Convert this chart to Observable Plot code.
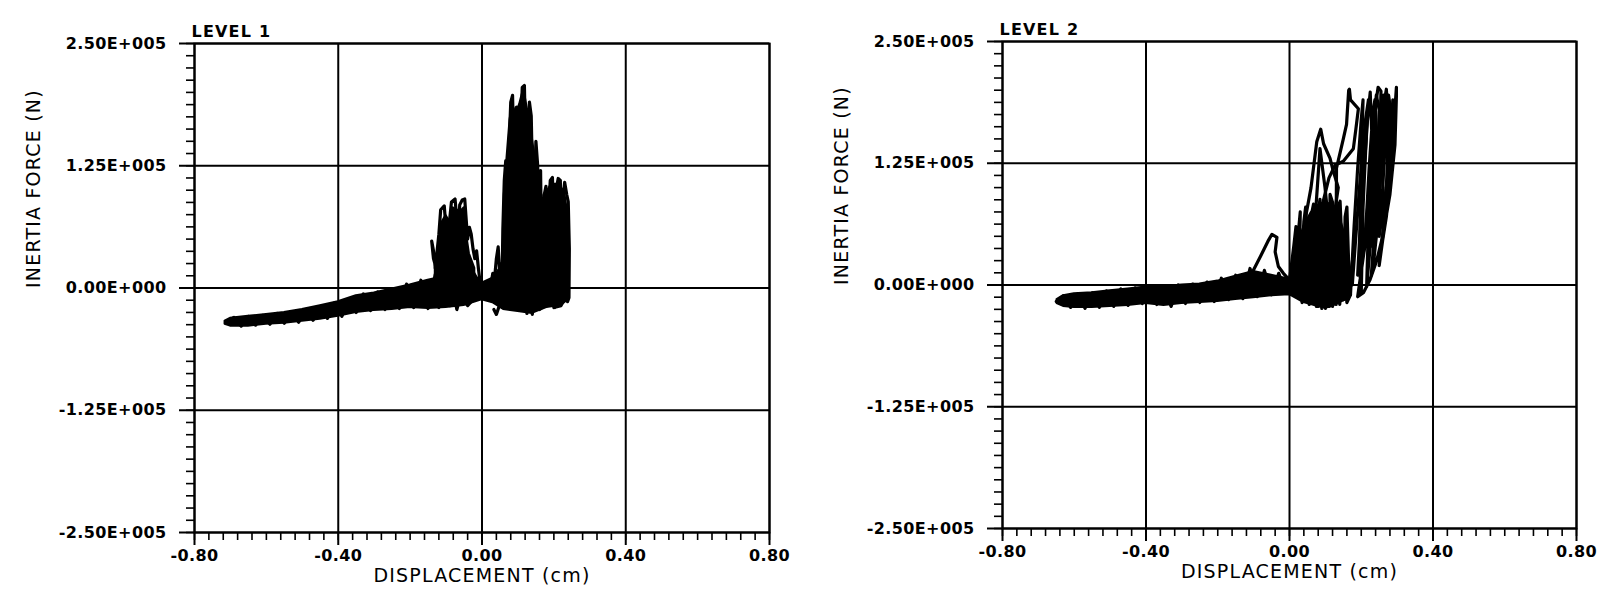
<!DOCTYPE html>
<html>
<head>
<meta charset="utf-8">
<script src="https://cdn.jsdelivr.net/npm/d3@7"></script>
<script src="https://cdn.jsdelivr.net/npm/@observablehq/plot@0.6"></script>
<style>
  html, body { margin: 0; padding: 0; background: #fff; }
  #wrap { display: flex; width: 1603px; height: 599px; overflow: hidden; }
  #wrap svg text { letter-spacing: 1.2px; }
  #wrap svg g[aria-label$="tick label"] text { font-size: 16px; font-weight: bold; letter-spacing: 0.4px; }
</style>
</head>
<body>
<div id="wrap"></div>
<script>
// ---- axes (shared) ----
const xMajorTicks = [-0.8, -0.4, 0, 0.4, 0.8];
const xMajorLabels = ["-0.80", "-0.40", "0.00", "0.40", "0.80"];
const xMinorTicks = [-0.8,-0.76,-0.72,-0.68,-0.64,-0.6,-0.56,-0.52,-0.48,-0.44,-0.4,-0.36,-0.32,-0.28,-0.24,-0.2,-0.16,-0.12,-0.08,-0.04,0,0.04,0.08,0.12,0.16,0.2,0.24,0.28,0.32,0.36,0.4,0.44,0.48,0.52,0.56,0.6,0.64,0.68,0.72,0.76,0.8];
const yMajorTicks = [250000, 125000, 0, -125000, -250000];
const yMajorLabels = ["2.50E+005", "1.25E+005", "0.00E+000", "-1.25E+005", "-2.50E+005"];
const yMinorTicks = [250000,237500,225000,212500,200000,187500,175000,162500,150000,137500,125000,112500,100000,87500,75000,62500,50000,37500,25000,12500,0,-12500,-25000,-37500,-50000,-62500,-75000,-87500,-100000,-112500,-125000,-137500,-150000,-162500,-175000,-187500,-200000,-212500,-225000,-237500,-250000];
const xTitle = "DISPLACEMENT (cm)";
const yTitle = "INERTIA FORCE (N)";

// ---- LEVEL 1: solid envelopes [displacement cm, low kN, high kN] ----
const level1BandEnv_kN = [[-0.715,-37,-34],[-0.7,-39,-31],[-0.65,-39,-29],[-0.6,-37,-27],[-0.55,-36,-25],[-0.5,-34,-22],[-0.45,-32,-18],[-0.4,-29,-14],[-0.35,-25,-8],[-0.3,-23,-5],[-0.25,-22,-1],[-0.2,-20,3],[-0.15,-21,8],[-0.1,-20,12],[-0.05,-18,15],[0,-12,5],[0.03,-15,10],[0.06,-22,25],[0.1,-24,35],[0.14,-26,30],[0.18,-20,25],[0.22,-18,20],[0.24,-12,10]];
const level1LeftEnv_kN = [[-0.13,0,20],[-0.11,0,68],[-0.1,0,74],[-0.09,0,68],[-0.08,0,82],[-0.07,0,80],[-0.06,0,78],[-0.05,0,82],[-0.045,0,60],[-0.035,0,35],[-0.02,0,20]];
const level1BigEnv_kN = [[0.062,0,95],[0.07,0,135],[0.078,0,172],[0.085,0,188],[0.095,0,178],[0.105,0,188],[0.112,0,198],[0.12,0,196],[0.128,0,180],[0.135,0,168],[0.142,0,148],[0.15,0,128],[0.158,0,112],[0.164,0,78]];
const level1RightEnv_kN = [[0.172,0,82],[0.18,0,98],[0.19,0,104],[0.2,0,106],[0.21,0,106],[0.22,0,103],[0.23,0,98],[0.238,0,78]];

// ---- LEVEL 1 traces: [displacement cm, force kN] ----
const level1Band_kN = [[-0.71,-36],[-0.69,-30],[-0.67,-39],[-0.65,-29],[-0.63,-38],[-0.61,-28],[-0.59,-37],[-0.57,-26],[-0.55,-36],[-0.53,-25],[-0.51,-35],[-0.49,-22],[-0.47,-33],[-0.45,-19],[-0.43,-31],[-0.41,-15],[-0.39,-29],[-0.37,-12],[-0.35,-25],[-0.33,-6],[-0.31,-23],[-0.29,-4],[-0.27,-22],[-0.25,-1],[-0.23,-21],[-0.21,4],[-0.19,-20],[-0.17,8],[-0.15,-21],[-0.13,14]];
const level1Left_kN = [[-0.1,-5],[-0.12,10],[-0.135,30],[-0.14,48],[-0.135,38],[-0.13,20],[-0.12,55],[-0.115,80],[-0.105,84],[-0.1,60],[-0.095,25],[-0.09,70],[-0.085,88],[-0.075,91],[-0.07,70],[-0.068,35],[-0.062,85],[-0.055,90],[-0.048,91],[-0.045,75],[-0.04,50],[-0.035,62],[-0.03,55],[-0.025,40],[-0.02,30],[-0.015,38],[-0.01,20],[-0.005,5],[-0.02,-10],[-0.04,-18],[-0.06,-8],[-0.07,-22],[-0.08,-5],[-0.09,15],[-0.085,50],[-0.08,65],[-0.075,40],[-0.07,75],[-0.065,20],[-0.06,60],[-0.055,10],[-0.05,70],[-0.045,15],[-0.04,35],[-0.03,-5],[-0.05,-15],[-0.09,-18],[-0.11,-8],[-0.12,-20],[-0.1,0],[-0.08,30],[-0.06,5],[-0.03,20],[0,0],[0.02,5],[0.03,-10]];
const level1Spike_kN = [[0.03,-10],[0.04,30],[0.045,42],[0.05,10],[0.055,-18],[0.058,60],[0.062,110],[0.066,130],[0.07,60],[0.072,-20],[0.076,150],[0.08,190],[0.085,197],[0.088,150],[0.09,-15],[0.093,120],[0.096,185],[0.1,182],[0.103,120],[0.106,-22],[0.108,160],[0.112,205],[0.118,207],[0.12,170],[0.122,10],[0.125,-26],[0.128,150],[0.132,190],[0.137,176],[0.14,120],[0.142,-20],[0.146,100],[0.15,150],[0.155,125],[0.158,-10],[0.16,90],[0.163,120],[0.165,60],[0.167,-15],
  [0.17,40],[0.173,95],[0.178,104],[0.18,30],[0.183,-18],[0.186,85],[0.19,110],[0.196,113],[0.2,60],[0.203,-20],[0.206,100],[0.212,112],[0.218,110],[0.22,40],[0.222,-14],[0.226,95],[0.23,108],[0.236,95],[0.24,88],[0.243,40],[0.242,-10],[0.238,-14],[0.232,5],[0.228,-12],
  [0.22,-18],[0.2,-20],[0.19,0],[0.18,-16],[0.16,-22],[0.15,15],[0.14,-27],[0.13,30],[0.12,-24],[0.11,50],[0.1,-20],[0.09,60],[0.08,-18],[0.07,40],[0.06,-12],[0.05,25],[0.04,-15],[0.03,15],[0.02,-8]];
const level1Tail_kN = [[0.033,-22],[0.04,-27],[0.05,-16],[0.045,-12]];

// ---- LEVEL 2: solid envelopes [displacement cm, low kN, high kN] ----
const level2BandEnv_kN = [[-0.648,-19,-15],[-0.63,-22,-11],[-0.6,-23,-9],[-0.55,-23,-8],[-0.5,-22,-6],[-0.45,-21,-4],[-0.4,-19,-2],[-0.35,-21,-2],[-0.3,-19,0],[-0.25,-18,1],[-0.2,-17,4],[-0.15,-15,9],[-0.1,-13,14],[-0.05,-11,10],[0,-10,6],[0.02,-14,35],[0.04,-18,60],[0.06,-20,74],[0.08,-22,82],[0.1,-24,85],[0.12,-22,82],[0.14,-18,70],[0.16,-15,45],[0.17,-10,18]];

// ---- LEVEL 2 traces: [displacement cm, force kN] ----
const level2Band_kN = [[-0.65,-17],[-0.63,-11],[-0.61,-23],[-0.59,-9],[-0.57,-24],[-0.55,-8],[-0.53,-23],[-0.51,-6],[-0.49,-22],[-0.47,-4],[-0.45,-21],[-0.43,-3],[-0.41,-19],[-0.39,-1],[-0.37,-20],[-0.35,-2],[-0.33,-22],[-0.31,0],[-0.29,-19],[-0.27,1],[-0.25,-18],[-0.23,3],[-0.21,-17],[-0.19,7],[-0.17,-15],[-0.15,10],[-0.13,-14],[-0.11,17],[-0.09,-12],[-0.07,15],[-0.05,-10],[-0.03,12],[-0.01,-8]];
const level2Hook_kN = [[-0.105,12],[-0.08,30],[-0.06,45],[-0.049,52],[-0.035,49],[-0.04,34],[-0.031,19],[-0.017,12],[0,5]];
const level2Core_kN = [[0,5],[0.012,40],[0.018,60],[0.015,20],[0.02,-10],[0.025,55],[0.03,75],[0.028,30],[0.035,-18],[0.04,65],[0.045,80],[0.05,40],[0.055,-20],[0.06,70],[0.067,83],[0.07,50],[0.075,-22],[0.08,75],[0.085,88],[0.09,-24],[0.095,80],[0.1,90],[0.105,40],[0.11,-22],[0.113,93],[0.12,85],[0.125,30],[0.13,-20],[0.135,80],[0.141,86],[0.145,50],[0.15,-15],[0.155,70],[0.16,80],[0.165,20],[0.17,-10],
  [0.16,-18],[0.15,30],[0.14,-20],[0.13,45],[0.12,-22],[0.11,55],[0.1,-24],[0.09,50],[0.08,-22],[0.07,40],[0.06,-18],[0.05,30],[0.04,-12],[0.03,25],[0.02,-5],[0.01,15]];
const level2LoopA_kN = [[0.03,40],[0.06,100],[0.076,147],[0.087,160],[0.095,145],[0.113,130],[0.122,117],[0.136,100],[0.12,60]];
const level2LoopB_kN = [[0.07,60],[0.085,140],[0.099,100],[0.11,60]];
const level2LoopC_kN = [[0.13,50],[0.131,120],[0.15,150],[0.159,165],[0.165,200],[0.167,201],[0.17,190],[0.192,181],[0.185,160],[0.178,140],[0.15,127],[0.127,123],[0.11,110],[0.09,80]];
const level2Right_kN = [[0.17,-10],[0.18,60],[0.19,120],[0.2,170],[0.205,190],[0.2,120],[0.195,20],[0.2,-8],[0.205,80],[0.215,160],[0.225,198],[0.23,150],[0.22,60],[0.215,-2],[0.225,40],[0.235,120],[0.24,185],[0.247,203],[0.255,199],[0.25,130],[0.24,60],[0.232,15],[0.245,60],[0.255,130],[0.265,190],[0.27,201],[0.275,170],[0.272,110],[0.262,55],[0.25,20],[0.265,60],[0.28,110],[0.29,160],[0.298,203],[0.298,194],[0.294,144],[0.28,93],[0.261,52],[0.243,25],[0.224,5],[0.206,-8],[0.19,-12],
  [0.21,40],[0.222,120],[0.232,175],[0.238,190],[0.244,150],[0.238,90],[0.23,40],[0.245,100],[0.258,170],[0.262,195],[0.268,160],[0.26,100],[0.25,50],[0.27,100],[0.282,150],[0.288,190],[0.292,175],[0.285,120],[0.27,70],[0.255,35]];
const level2Streaks_kN = [[0.175,0],[0.195,100],[0.212,170],[0.22,190],[0.214,150],[0.2,80],[0.19,10],[0.21,40],[0.228,130],[0.236,170],[0.242,195],[0.25,180],[0.246,120],[0.236,50],[0.228,10],[0.248,80],[0.262,150],[0.276,195],[0.28,185],[0.275,130],[0.266,80],[0.258,45],[0.275,90],[0.29,150],[0.295,185]];

function toLineRows(segments) {
  const rows = [];
  segments.forEach((seg, i) => seg.forEach(p => rows.push({disp: p[0], force: p[1] * 1000, seg: i})));
  return rows;
}
function toAreaRows(segments) {
  const rows = [];
  segments.forEach((seg, i) => seg.forEach(p => rows.push({disp: p[0], lo: p[1] * 1000, hi: p[2] * 1000, seg: i})));
  return rows;
}

function panel({lines, areas, level, width, ml, mr, mt, mb}) {
  return Plot.plot({
    width, height: 599,
    marginLeft: ml, marginRight: mr, marginTop: mt, marginBottom: mb,
    x: {domain: [-0.8, 0.8]},
    y: {domain: [-250000, 250000]},
    style: {fontFamily: "'DejaVu Sans', sans-serif", fontSize: "16px", color: "black", background: "white", overflow: "visible"},
    marks: [
      Plot.gridX({ticks: xMajorTicks, stroke: "black", strokeOpacity: 1, strokeWidth: 2}),
      Plot.gridY({ticks: yMajorTicks, stroke: "black", strokeOpacity: 1, strokeWidth: 2}),
      Plot.areaY(areas, {x: "disp", y1: "lo", y2: "hi", z: "seg", fill: "black", stroke: "black", strokeWidth: 2, curve: "linear"}),
      Plot.line(lines, {x: "disp", y: "force", z: "seg", stroke: "black", strokeWidth: 3.2, strokeLinejoin: "round", strokeLinecap: "round"}),
      Plot.frame({stroke: "black", strokeWidth: 2}),
      Plot.axisX({ticks: xMinorTicks, tickSize: 8, tickFormat: () => "", strokeWidth: 1.6, label: null}),
      Plot.axisX({ticks: xMajorTicks, tickSize: 13, tickPadding: 4, strokeWidth: 2, label: null, fontSize: 16,
        tickFormat: d => xMajorLabels[xMajorTicks.findIndex(t => Math.abs(t - d) < 1e-9)]}),
      Plot.axisY({ticks: yMinorTicks, tickSize: 8, tickFormat: () => "", strokeWidth: 1.6, label: null}),
      Plot.axisY({ticks: yMajorTicks, tickSize: 15, tickPadding: 13, strokeWidth: 2, label: null, fontSize: 16,
        tickFormat: d => yMajorLabels[yMajorTicks.indexOf(d)]}),
      Plot.text([level], {text: d => d, frameAnchor: "top-left", textAnchor: "start", dx: -3, dy: -18, fontSize: 16, fontWeight: "bold"}),
      Plot.text([xTitle], {text: d => d, frameAnchor: "bottom", dy: 49, fontSize: 19}),
      Plot.text([yTitle], {text: d => d, frameAnchor: "left", dx: -161, rotate: -90, fontSize: 19})
    ]
  });
}

const wrap = document.getElementById("wrap");
wrap.appendChild(panel({
  lines: toLineRows([level1Band_kN, level1Left_kN, level1Spike_kN, level1Tail_kN]),
  areas: toAreaRows([level1BandEnv_kN, level1LeftEnv_kN, level1BigEnv_kN, level1RightEnv_kN]),
  level: "LEVEL 1", width: 800, ml: 194, mr: 31, mt: 43, mb: 67
}));
wrap.appendChild(panel({
  lines: toLineRows([level2Band_kN, level2Hook_kN, level2Core_kN, level2LoopA_kN, level2LoopB_kN, level2LoopC_kN, level2Right_kN, level2Streaks_kN]),
  areas: toAreaRows([level2BandEnv_kN]),
  level: "LEVEL 2", width: 803, ml: 202, mr: 27, mt: 41, mb: 71
}));
</script>
</body>
</html>
